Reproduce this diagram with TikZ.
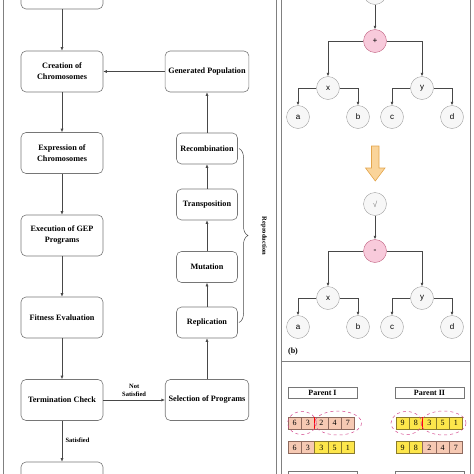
\documentclass[tikz,border=0pt]{standalone}
\usepackage{fontspec}
\setmainfont{Liberation Serif}
\newfontfamily\treefont{Liberation Sans}
\usetikzlibrary{arrows.meta,decorations.pathreplacing}

\definecolor{boxgray}{HTML}{767676}
\definecolor{linegray}{HTML}{484848}
\definecolor{nodegray}{HTML}{A0A0A0}
\definecolor{nodefill}{HTML}{F7F7F7}
\definecolor{pinkfill}{HTML}{F8CADB}
\definecolor{pinkline}{HTML}{C06080}
\definecolor{orangefill}{HTML}{FAD49A}
\definecolor{orangeline}{HTML}{E3A54C}
\definecolor{salmon}{HTML}{F6C9B3}
\definecolor{salmonline}{HTML}{8E6A5E}
\definecolor{yel}{HTML}{FDE64B}
\definecolor{yelline}{HTML}{8A7B2C}
\definecolor{cutpink}{HTML}{D2468C}

\tikzset{
  flowbox/.style={draw=boxgray, rounded corners=5pt, minimum width=82pt, minimum height=41pt,
    align=center, font=\bfseries\fontsize{8.2}{11}\selectfont, line width=0.6pt},
  opbox/.style={flowbox, minimum width=61pt, minimum height=31pt},
  link/.style={-{Latex[length=3.5pt,width=3pt]}, draw=linegray, line width=0.6pt},
  gene/.style={circle, draw=nodegray, fill=nodefill, minimum size=23pt, inner sep=0pt,
    font=\treefont\fontsize{8}{8}\selectfont},
  opnode/.style={gene, draw=pinkline, fill=pinkfill, font=\bfseries\fontsize{8.5}{8}\selectfont},
  parentbox/.style={draw=boxgray, minimum width=69pt, minimum height=11pt, inner sep=0pt,
    font=\bfseries\fontsize{8}{8}\selectfont, line width=0.6pt},
  cell/.style={draw=#1line, fill=#1, minimum width=13.3pt, minimum height=12pt, inner sep=0pt,
    font=\fontsize{8}{8}\selectfont},
  cut/.style={draw=cutpink, dashed, line width=0.5pt},
  smalltext/.style={font=\bfseries\fontsize{6.5}{8}\selectfont, align=center},
}

\begin{document}
\begin{tikzpicture}[x=1pt,y=-1pt]
  \useasboundingbox (0,0) rectangle (474,474);
  \clip (0,0) rectangle (474,474);

  % panels
  \draw[draw=gray, line width=0.7pt] (3,-5) rectangle (276,480);
  \draw[draw=gray, line width=0.7pt] (281,-5) rectangle (470,480);
  \draw[draw=gray, line width=0.7pt] (281,361) -- (470,361);

  % flow chart, left column
  \node[flowbox] (init) at (62,-11.5) {};
  \node[flowbox] (create) at (62,71.5) {Creation of\\Chromosomes};
  \node[flowbox] (express) at (62,153) {Expression of\\Chromosomes};
  \node[flowbox] (exec) at (62,235.5) {Execution of GEP\\Programs};
  \node[flowbox] (fitness) at (62,317.5) {Fitness Evaluation};
  \node[flowbox] (term) at (62,400) {Termination Check};
  \node[flowbox] (final) at (62,482.5) {};

  % right column
  \node[flowbox] (genpop) at (207,71.5) {Generated Population};
  \node[opbox] (recomb) at (207,148.5) {Recombination};
  \node[opbox] (transp) at (207,204.5) {Transposition};
  \node[opbox] (mut) at (207,267) {Mutation};
  \node[opbox] (repl) at (207,322.5) {Replication};
  \node[flowbox] (select) at (207,400) {Selection of Programs};

  \draw[link] (init) -- (create);
  \draw[link] (create) -- (express);
  \draw[link] (express) -- (exec);
  \draw[link] (exec) -- (fitness);
  \draw[link] (fitness) -- (term);
  \draw[link] (term) -- node[right, smalltext, yshift=1pt] {Satisfied} (final);
  \draw[link] (term) -- node[above, smalltext] {Not\\Satisfied} (select);
  \draw[link] (select) -- (repl);
  \draw[link] (repl) -- (mut);
  \draw[link] (mut) -- (transp);
  \draw[link] (transp) -- (recomb);
  \draw[link] (recomb) -- (genpop);
  \draw[link] (genpop) -- (create);

  \draw[draw=linegray, line width=0.5pt, decorate, decoration={brace, amplitude=9pt}]
    (239,148.5) -- (239,322.5);
  \node[smalltext, rotate=-90] (repro) at (264,236) {Reproduction};

  % tree before
  \node[gene] (root1) at (375,-7) {};
  \node[opnode] (plus) at (375,41) {+};
  \node[gene] (x1) at (328,88) {x};
  \node[gene] (y1) at (422,88) {y};
  \node[gene] (a1) at (298,117) {a};
  \node[gene] (b1) at (358,117) {b};
  \node[gene] (c1) at (392,117) {c};
  \node[gene] (d1) at (452,117) {d};
  \draw[link] (root1) -- (plus);
  \draw[link] (plus) -| (x1);
  \draw[link] (plus) -| (y1);
  \draw[link] (x1) -| (a1);
  \draw[link] (x1) -| (b1);
  \draw[link] (y1) -| (c1);
  \draw[link] (y1) -| (d1);

  \draw[draw=orangeline, fill=orangefill, line width=0.6pt]
    (371.5,146) -- (379,146) -- (379,168) -- (385,168) -- (375.25,181)
    -- (365.5,168) -- (371.5,168) -- cycle;

  % tree after
  \node[gene, text=gray] (root2) at (375,204) {√};
  \node[opnode] (minus) at (375,251) {-};
  \node[gene] (x2) at (328,298) {x};
  \node[gene] (y2) at (422,298) {y};
  \node[gene] (a2) at (298,327) {a};
  \node[gene] (b2) at (358,327) {b};
  \node[gene] (c2) at (392,327) {c};
  \node[gene] (d2) at (452,327) {d};
  \draw[link] (root2) -- (minus);
  \draw[link] (minus) -| (x2);
  \draw[link] (minus) -| (y2);
  \draw[link] (x2) -| (a2);
  \draw[link] (x2) -| (b2);
  \draw[link] (y2) -| (c2);
  \draw[link] (y2) -| (d2);

  \node[font=\bfseries\fontsize{8}{9}\selectfont] (tagb) at (293,352) {(b)};

  % crossover
  \node[parentbox] (parenta) at (322.5,392.5) {Parent I};
  \node[parentbox] (parentb) at (429.5,392.5) {Parent II};

  \foreach \v/\c [count=\i] in {6/salmon,3/salmon,2/salmon,4/salmon,7/salmon}
    \node[cell=\c] (pa\i) at (288+13.3*\i-6.65,423) {\v};
  \foreach \v/\c [count=\i] in {6/salmon,3/salmon,3/yel,5/yel,1/yel}
    \node[cell=\c] (ca\i) at (288+13.3*\i-6.65,447.5) {\v};
  \foreach \v/\c [count=\i] in {9/yel,8/yel,3/yel,5/yel,1/yel}
    \node[cell=\c] (pb\i) at (396+13.3*\i-6.65,423) {\v};
  \foreach \v/\c [count=\i] in {9/yel,8/yel,2/salmon,4/salmon,7/salmon}
    \node[cell=\c] (cb\i) at (396+13.3*\i-6.65,447.5) {\v};

  \draw[red, line width=1pt] (pa2.north east) -- (pa2.south east);
  \draw[red, line width=1pt] (pb2.north east) -- (pb2.south east);

  \draw[cut] (302,423) ellipse[x radius=14.5, y radius=11.5];
  \draw[cut] (338,423) ellipse[x radius=23.5, y radius=12];
  \draw[cut] (406.5,423) ellipse[x radius=15.5, y radius=11.5];
  \draw[cut] (443.5,423) ellipse[x radius=22.5, y radius=12];

  \node[parentbox] (childa) at (322.5,476.5) {};
  \node[parentbox] (childb) at (429.5,476.5) {};
\end{tikzpicture}
\end{document}
